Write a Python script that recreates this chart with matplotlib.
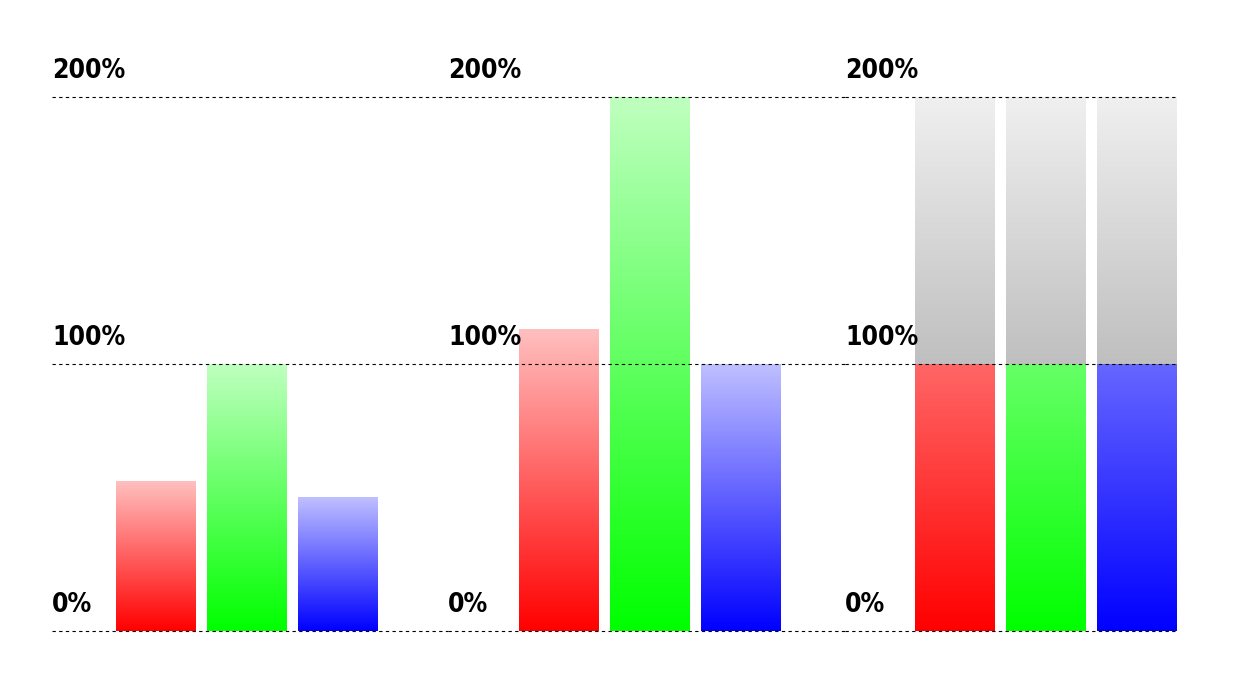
import numpy as np
import matplotlib
matplotlib.use("Agg")
import matplotlib.pyplot as plt

categories = ["R", "G", "B"]
panel1 = [56, 100, 50]
panel2 = [113, 200, 100]
panel3 = [200, 200, 200]
colors = [(1, 0, 0), (0, 1, 0), (0, 0, 1)]
ticks = [0, 100, 200]
tick_labels = ["0%", "100%", "200%"]

W, H = 1239, 695
fig = plt.figure(figsize=(W/100, H/100), dpi=100)
starts = [52, 448, 845]
widths = [396, 397, 333]
offsets = [104, 111, 110]
unit = 91.0
bw = 80/unit

def grad(ax, x, y0, y1, c, a0, a1, n=256):
    t = np.linspace(0, 1, n)[:, None]
    a = a0 + (a1 - a0) * t
    rgb = np.array(c)[None, :] * a + (1 - a)
    img = np.repeat(rgb[:, None, :], 2, axis=1)
    ax.imshow(img, extent=[x-bw/2, x+bw/2, y0, y1], origin="lower",
              aspect="auto", interpolation="bilinear", zorder=2)

for p, (vals, s, w, off) in enumerate(zip([panel1, panel2, panel3], starts, widths, offsets)):
    ax = fig.add_axes([s/W, (H-631)/H, w/W, 534/H])
    ax.axis("off")
    for i, v in enumerate(vals):
        if p < 2:
            grad(ax, i, 0, v, colors[i], 1.0, 0.25)
        else:
            grad(ax, i, 0, 100, colors[i], 1.0, 0.6)
            grad(ax, i, 100, v, (0, 0, 0), 0.25, 0.06)
    for t, lab in zip(ticks, tick_labels):
        ax.axhline(t, color="black", lw=0.8, ls=(0, (3, 3)), zorder=3, clip_on=False)
        ax.text(-off/unit, t + 5, lab, ha="left", va="bottom", fontsize=19,
                family=["Liberation Sans Narrow", "DejaVu Sans"],
                fontstretch="condensed", fontweight="bold")
    ax.set_xlim(-off/unit, (w-off)/unit)
    ax.set_ylim(0, 200)

fig.savefig("out.png", dpi=100)
